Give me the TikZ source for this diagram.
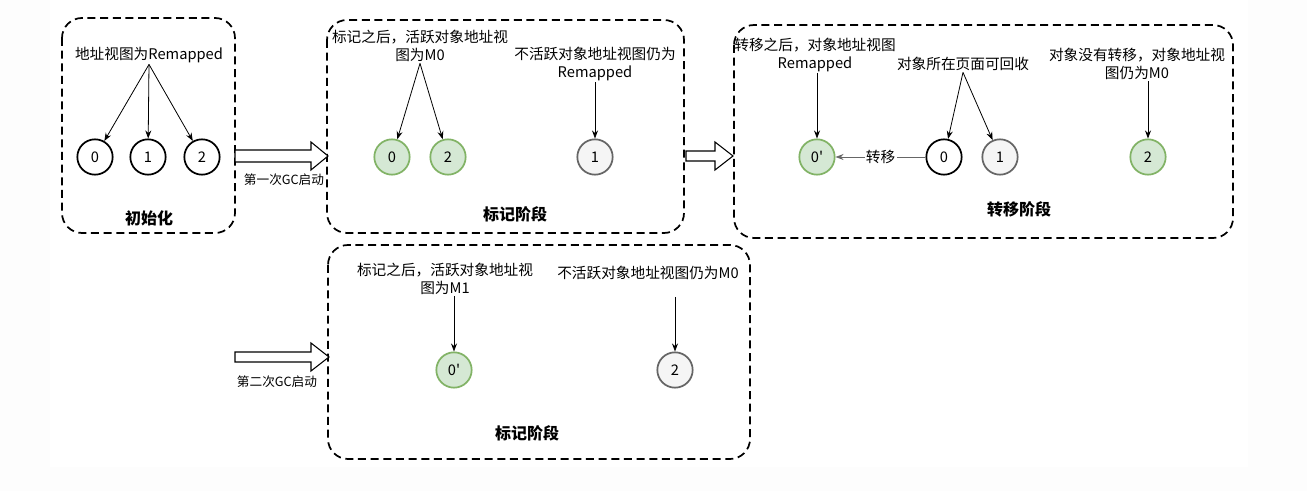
\documentclass[tikz,border=0pt]{standalone}
\usepackage{fontspec}
\setmainfont{Noto Sans CJK SC}
\usepackage{xcolor}
\usetikzlibrary{arrows.meta}

\definecolor{livefill}{HTML}{D5E8D4}
\definecolor{livedraw}{HTML}{82B366}
\definecolor{deadfill}{HTML}{F5F5F5}
\definecolor{deaddraw}{HTML}{666666}
\definecolor{pagebg}{HTML}{FDFDFD}

\tikzset{
  obj/.style={circle, draw, line width=1.3pt, fill=white, minimum size=26.5pt, inner sep=0pt, font=\fontsize{11}{13}\selectfont},
  live/.style={obj, fill=livefill, draw=livedraw},
  dead/.style={obj, fill=deadfill, draw=deaddraw},
  note/.style={align=center, inner sep=1pt, font=\fontsize{11}{13.5}\selectfont},
  gcnote/.style={inner sep=1pt, font=\fontsize{9.5}{11}\selectfont},
  title/.style={font=\fontsize{12}{14}\selectfont\bfseries},
  phase/.style={draw, line width=1.3pt, dash pattern=on 6pt off 3.5pt, rounded corners=15pt},
  ptr/.style={-{Stealth[length=6pt,width=4.5pt]}, line width=0.6pt},
  bigarr/.style={draw, line width=0.8pt, fill=white}
}

\begin{document}
\begin{tikzpicture}[x=0.75pt,y=-0.75pt]
    \useasboundingbox (0,0) rectangle (1307,491);
    \fill[pagebg] (0,0) rectangle (1307,491);
    \fill[white] (50,0) rectangle (1248,467);

    % Phase boxes
    \draw[phase] (62,18) rectangle (235,233);
    \draw[phase] (327,20) rectangle (684,233);
    \draw[phase] (734,25) rectangle (1233,238);
    \draw[phase] (328,245) rectangle (750,459);

    % GC start arrows
    \draw[bigarr] (235,150) -- (311,150) -- (311,142) -- (328,156) -- (311,170) -- (311,162) -- (235,162) -- cycle;
    \draw[bigarr] (686,151) -- (715,151) -- (715,142) -- (733,156) -- (715,170) -- (715,161) -- (686,161) -- cycle;
    \draw[bigarr] (235,352) -- (311,352) -- (311,343) -- (329,357) -- (311,371) -- (311,362) -- (235,362) -- cycle;
    \node[gcnote] (gc1) at (284,180) {第一次GC启动};
    \node[gcnote] (gc2) at (277,382) {第二次GC启动};

    % Initial state
    \node[note] (initlbl) at (149,55) {地址视图为Remapped};
    \node[obj] (i0) at (95,157) {0};
    \node[obj] (i1) at (148,157) {1};
    \node[obj] (i2) at (202,157) {2};
    \draw[ptr] (initlbl.south) -- (i0);
    \draw[ptr] (initlbl.south) -- (i1);
    \draw[ptr] (initlbl.south) -- (i2);
    \node[title] (inittitle) at (149,218) {初始化};

    % First mark phase
    \node[note] (marklive) at (420,46) {标记之后，活跃对象地址视\\图为M0};
    \node[live] (m0) at (392,157) {0};
    \node[live] (m2) at (448,157) {2};
    \draw[ptr] (marklive.south) -- (m0);
    \draw[ptr] (marklive.south) -- (m2);
    \node[note] (markdead) at (595,64) {不活跃对象地址视图仍为\\Remapped};
    \node[dead] (m1) at (595,157) {1};
    \draw[ptr] (markdead.south) -- (m1);
    \node[title] (marktitle) at (515,214) {标记阶段};

    % Relocation phase
    \node[note] (reloc) at (815,55) {转移之后，对象地址视图\\Remapped};
    \node[live] (r0p) at (817,157) {0\textquotesingle};
    \draw[ptr] (reloc.south -| r0p) -- (r0p);
    \node[note] (page) at (963,64) {对象所在页面可回收};
    \node[obj] (r0) at (944,157) {0};
    \node[dead] (r1) at (1000,157) {1};
    \draw[ptr] (page.south) -- (r0);
    \draw[ptr] (page.south) -- (r1);
    \draw[ptr, draw=deaddraw] (r0) -- node[note, fill=white] {转移} (r0p);
    \node[note] (stay) at (1137,64) {对象没有转移，对象地址视\\图仍为M0};
    \node[live] (r2) at (1148,157) {2};
    \draw[ptr] (stay.south -| r2) -- (r2);
    \node[title] (reloctitle) at (1019,209) {转移阶段};

    % Second mark phase
    \node[note] (mark2live) at (445,279) {标记之后，活跃对象地址视\\图为M1};
    \node[live] (n0p) at (454,370) {0\textquotesingle};
    \draw[ptr] (mark2live.south -| n0p) -- (n0p);
    \node[note] (mark2dead) at (648,273) {不活跃对象地址视图仍为M0};
    \coordinate (mark2from) at (675,297);
    \node[dead] (n2) at (675,370) {2};
    \draw[ptr] (mark2from) -- (n2);
    \node[title] (mark2title) at (527,433) {标记阶段};
\end{tikzpicture}
\end{document}
